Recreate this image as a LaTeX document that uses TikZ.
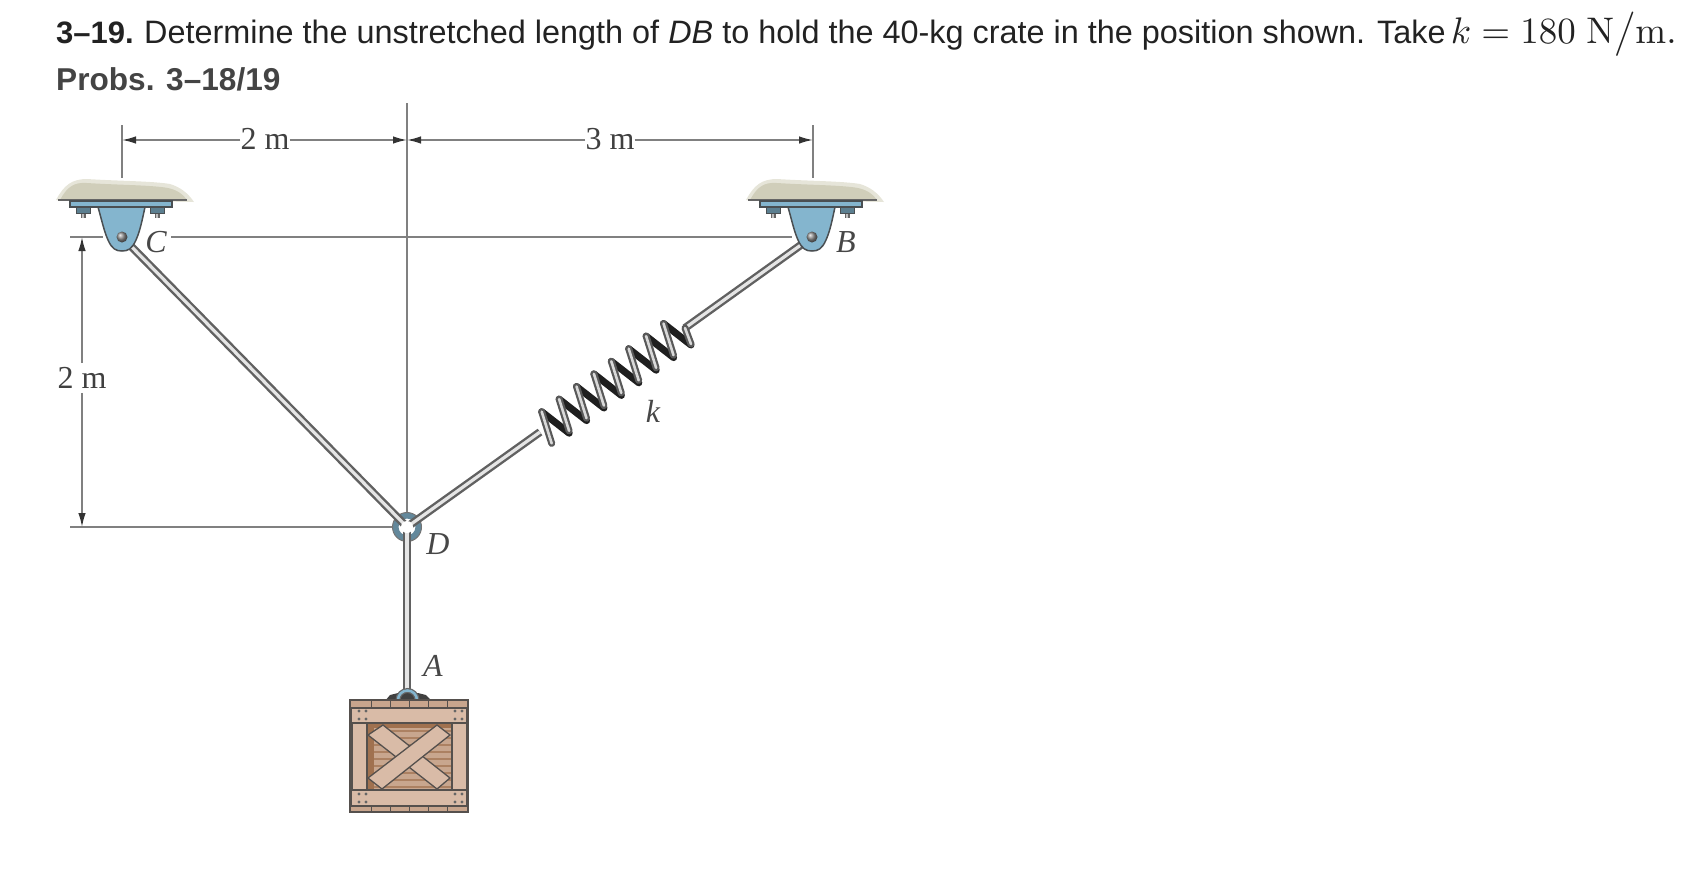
\documentclass[tikz,border=0pt]{standalone}
\usepackage[no-math]{fontspec}
\setmainfont{Liberation Sans}
\newfontfamily\figfont{Liberation Serif}
\usetikzlibrary{arrows.meta,calc}
\definecolor{bluepart}{HTML}{84B5CE}
\definecolor{edgec}{HTML}{4A4F52}
\definecolor{dimc}{HTML}{808080}
\definecolor{conc}{HTML}{D0CEBA}
\definecolor{concl}{HTML}{E6E5D9}
\definecolor{boardc}{HTML}{D9BBA7}
\definecolor{inner}{HTML}{C8A68E}
\definecolor{innerd}{HTML}{A0714F}
\definecolor{crateline}{HTML}{55504D}
\definecolor{titlec}{HTML}{222222}
\definecolor{subc}{HTML}{444444}
\tikzset{
  dimline/.style={draw=dimc,line width=1.5pt},
  dimarrow/.style={draw=dimc,line width=1.5pt,-{Latex[length=14pt,width=7.5pt,color=black!80]}},
  rodline/.style={draw=black!62,line width=8pt},
  rodcore/.style={draw=black!10,line width=3.2pt},
  figlabel/.style={font=\figfont\fontsize{32}{36}\selectfont,text=black!75,inner sep=0pt},
  figitalic/.style={font=\figfont\itshape\fontsize{32}{36}\selectfont,text=black!72,inner sep=0pt},
  titletext/.style={font=\fontsize{32.4}{36}\selectfont,text=titlec,inner sep=0pt,anchor=base west},
  titlebold/.style={font=\bfseries\fontsize{31}{36}\selectfont,text=titlec,inner sep=0pt,anchor=base west},
  subtext/.style={font=\bfseries\fontsize{31.6}{36}\selectfont,text=subc,inner sep=0pt,anchor=base west},
  boardp/.style={fill=boardc,draw=crateline,line width=1.3pt},
}
\newcommand{\supportat}[1]{%
  \begin{scope}[shift={(#1)}]
    \fill[concl] (-66,-37) .. controls (-58,-52) and (-50,-58) .. (-35,-58) .. controls (-5,-56) and (30,-56) .. (48,-53) .. controls (58,-50) and (66,-44) .. (72,-35) -- cycle;
    \fill[conc] (-62,-37) .. controls (-55,-50) and (-48,-55) .. (-35,-54) .. controls (-5,-52) and (30,-52) .. (46,-49) .. controls (55,-47) and (61,-43) .. (65,-37) -- cycle;
    \draw[black!60,line width=2.4pt] (-64,-37) -- (65,-37);
    \foreach \bx in {-39,35}{
      \fill[black!60] (\bx-2.5,-30) rectangle (\bx+2.5,-19);
      \fill[black!25] (\bx-1,-24) rectangle (\bx+1,-19);
      \fill[bluepart!70!black,draw=edgec,line width=1pt] (\bx-7,-30) rectangle (\bx+7,-24);
    }
    \fill[bluepart,draw=edgec,line width=1.3pt] (-52,-36) rectangle (50,-30);
    \fill[bluepart,draw=edgec,line width=1.5pt] (-24,-30) -- (23,-30)
      .. controls (20,-16) and (18,-6) .. (14,3)
      .. controls (10,12) and (6,14) .. (0,14)
      .. controls (-6,14) and (-10,12) .. (-14,3)
      .. controls (-18,-6) and (-20,-16) .. (-24,-30) -- cycle;
    \shade[ball color=black!45] (0,0) circle (5.5pt);
  \end{scope}}
\begin{document}
\begin{tikzpicture}[x=1pt,y=-1pt]
\useasboundingbox (0,0) rectangle (1696,884);

% key points
\coordinate (C) at (122,237);
\coordinate (B) at (812,237);
\coordinate (D) at (407,527);
\coordinate (A) at (407,689);
\coordinate (springL) at (540,432);
\coordinate (springR) at (685,328);

% title
\node[titlebold] (titlenum) at (56,43) {3–19.};
\node[titletext] (title) at (144,43) {Determine the unstretched length of \textit{DB} to hold the 40-kg crate in the position shown. Take};
\node[inner sep=0pt,anchor=base west,text=titlec,scale=3.7] (titlemath) at (1450,43) {$k=180\ \mathrm{N}\big/\mathrm{m.}$};
\node[subtext] (probs) at (56,90) {Probs. 3–18/19};

% dimension lines
\coordinate (midtop) at (407,103);
\coordinate (midbot) at (407,514);
\draw[dimline] (midtop) -- (midbot);
\coordinate (leftext0) at (122,125); \coordinate (leftext1) at (122,178);
\coordinate (rightext0) at (813,125); \coordinate (rightext1) at (813,178);
\draw[dimline] (leftext0) -- (leftext1);
\draw[dimline] (rightext0) -- (rightext1);

\node[figlabel] (dimtwo) at (265,139) {2 m};
\node[figlabel] (dimthree) at (610,139) {3 m};
\coordinate (h1) at (122,140); \coordinate (h2) at (407,140); \coordinate (h3) at (813,140);
\draw[dimarrow] (dimtwo.west |- h1) -- (h1);
\draw[dimarrow] (dimtwo.east |- h1) -- (h2);
\draw[dimarrow] (dimthree.west |- h1) -- (h2);
\draw[dimarrow] (dimthree.east |- h1) -- (h3);

\coordinate (ct1) at (70,237); \coordinate (ct2) at (103,237);
\coordinate (ct3) at (171,237); \coordinate (ct4) at (792,237);
\draw[dimline] (ct1) -- (ct2);
\draw[dimline] (ct3) -- (ct4);
\coordinate (dl1) at (70,527); \coordinate (dl2) at (392,527);
\draw[dimline] (dl1) -- (dl2);

\node[figlabel] (dimvert) at (82,378) {2 m};
\coordinate (v1) at (82,237); \coordinate (v2) at (82,527);
\draw[dimarrow] ($(dimvert.north)+(0,-4)$) -- (v1);
\draw[dimarrow] ($(dimvert.south)+(0,4)$) -- (v2);

% ring D
\draw[bluepart!75!black,line width=6pt] (D) circle (11.5pt);
\draw[black!55,line width=1pt] (D) circle (14.5pt);

% rods
\draw[rodline] (C) -- (D);
\draw[rodcore] (C) -- (D);
\draw[rodline] (D) -- (springL);
\draw[rodcore] (D) -- (springL);
\draw[rodline] (springR) -- (B);
\draw[rodcore] (springR) -- (B);
\draw[rodline] (D) -- (A);
\draw[rodcore] (D) -- (A);
\fill[white] (D) circle (6pt);

% spring
\foreach \i in {0,...,7}{
  \pgfmathsetmacro{\tx}{541.7+17.4*\i}
  \pgfmathsetmacro{\ty}{411.7-12.6*\i}
  \pgfmathsetmacro{\bx}{\tx+27.5}
  \pgfmathsetmacro{\by}{\ty+21.5}
  \draw[black!88,line width=7pt,line cap=round] (\tx,\ty) -- (\bx,\by);
}
\foreach \i in {0,...,7}{
  \pgfmathsetmacro{\tx}{541.7+17.4*\i}
  \pgfmathsetmacro{\ty}{411.7-12.6*\i}
  \pgfmathsetmacro{\bx}{\tx+10}
  \pgfmathsetmacro{\by}{\ty+31.7}
  \draw[black!65,line width=7pt,line cap=round] (\tx,\ty) -- (\bx,\by);
  \draw[black!15,line width=2.6pt,line cap=round] (\tx,\ty) -- (\bx,\by);
}
\coordinate (sEndB) at (691,344);
\draw[black!65,line width=7pt,line cap=round] (sEndB) -- (springR);
\draw[black!15,line width=2.6pt,line cap=round] (sEndB) -- (springR);

% supports
\supportat{122,237}
\supportat{812,237}

% crate attachment
\fill[black!75] (385,701) -- (390,695) -- (398,693) -- (418,693) -- (426,695) -- (432,701) -- cycle;
\draw[black!60,line width=5pt] (398,700) arc (180:360:9.5);
\draw[bluepart,line width=2.5pt] (398,700) arc (180:360:9.5);

% crate
\fill[crateline] (350,700) rectangle (468,812);
\fill[inner] (367,723) rectangle (452,790);
\foreach \yy in {731,738,745,752,759,766,773,780,787}{
  \draw[innerd!70!inner,line width=1.5pt] (367,\yy) -- (452,\yy);
}
\fill[innerd] (367,723) rectangle (374,790);
\fill[innerd] (367,723) rectangle (452,728);
\begin{scope}
  \clip (367,723) rectangle (452,790);
  \filldraw[boardp] (368,735) -- (383,725) -- (450,778) -- (437,789) -- cycle;
  \filldraw[boardp] (368,778) -- (382,789) -- (450,735) -- (437,725) -- cycle;
\end{scope}
\fill[boardc!70!innerd] (351,701) rectangle (467,708);
\fill[boardc!70!innerd] (351,806) rectangle (467,811);
\foreach \xx in {371,390,409,428,447}{
  \draw[crateline,line width=1pt] (\xx,701) -- (\xx,708);
  \draw[crateline,line width=1pt] (\xx,806) -- (\xx,811);
}
\filldraw[boardp] (352,723) rectangle (367,790);
\filldraw[boardp] (452,723) rectangle (467,790);
\filldraw[boardp] (351,708) rectangle (467,723);
\filldraw[boardp] (351,790) rectangle (467,806);
\draw[crateline,line width=1.6pt] (350,700) rectangle (468,812);
\foreach \dx/\dy in {359/711,366/711,359/719,366/719,455/711,462/711,455/719,462/719,359/794,366/794,359/802,366/802,455/794,462/794,455/802,462/802}{
  \fill[black!60] (\dx,\dy) circle (1.6pt);
}

% labels
\node[figitalic] (labC) at (156,242) {C};
\node[figitalic] (labB) at (846,242) {B};
\node[figitalic] (labD) at (438,544) {D};
\node[figitalic] (labA) at (433,666) {A};
\node[figitalic] (labk) at (653,411) {k};
\end{tikzpicture}
\end{document}
